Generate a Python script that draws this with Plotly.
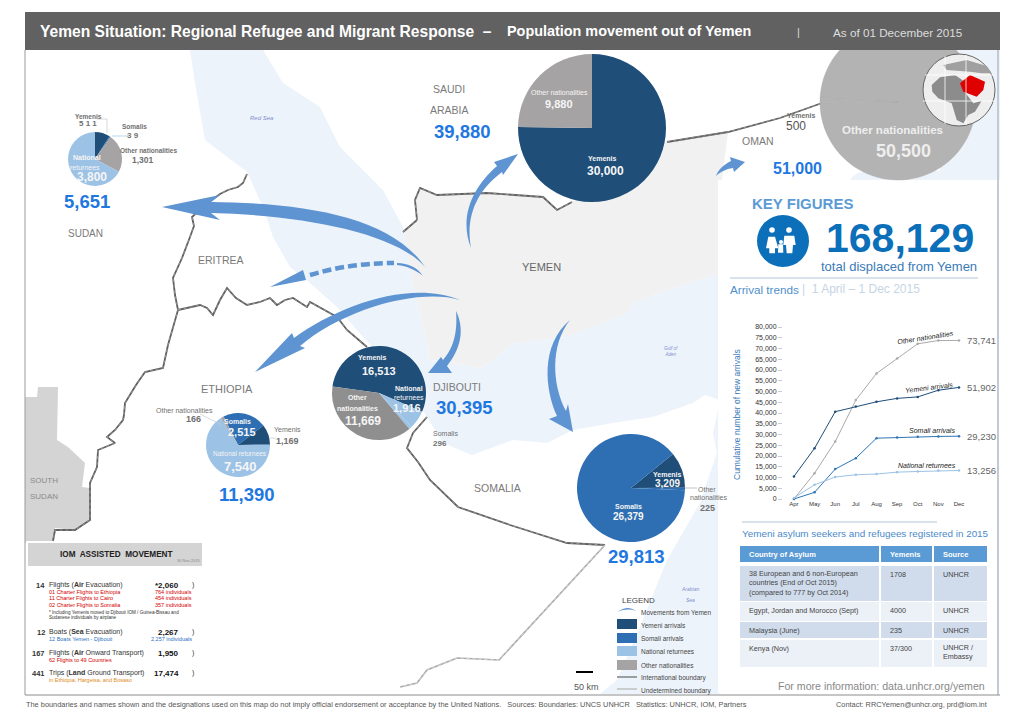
import plotly.graph_objects as go

# ---------- data ----------
months = ["Apr", "May", "Jun", "Jul", "Aug", "Sep", "Oct", "Nov", "Dec"]
other_nationalities = [0, 12000, 26700, 46000, 58400, 65300, 72200, 73700, 73741]
yemeni_arrivals = [10500, 23600, 40600, 43000, 45200, 46800, 47500, 50600, 51902]
somali_arrivals = [0, 3100, 13900, 19000, 28300, 28600, 29000, 29100, 29230]
national_returnees = [500, 6600, 10200, 11300, 11600, 12500, 12800, 13200, 13256]

saudi_labels = ["Yemenis", "Other nationalities"]
saudi_values = [30000, 9880]
sudan_labels = ["Yemenis", "Somalis", "Other nationalities", "National returnees"]
sudan_values = [511, 39, 1301, 3800]
djibouti_labels = ["Yemenis", "National returnees", "Somalis", "Other nationalities"]
djibouti_values = [16513, 1916, 296, 11669]
ethiopia_labels = ["Somalis", "Yemenis", "National returnees", "Other nationalities"]
ethiopia_values = [2515, 1169, 7540, 166]
somalia_labels = ["Yemenis", "Other nationalities", "Somalis"]
somalia_values = [3209, 225, 26379]
oman_labels = ["Other nationalities", "Yemenis"]
oman_values = [50500, 500]

table_header = ["Country of Asylum", "Yemenis", "Source"]
table_country = ["38 European and 6 non-European<br>countries (End of Oct 2015)<br>(compared to 777 by Oct 2014)",
                 "Egypt, Jordan and Morocco (Sept)", "Malaysia (June)", "Kenya (Nov)"]
table_yemenis = ["1708", "4000", "235", "37/300"]
table_source = ["UNHCR", "UNHCR", "UNHCR", "UNHCR /<br>Embassy"]

# ---------- style ----------
C_YEM, C_SOM, C_NAT, C_OTH = "#1f4e79", "#2e6fb3", "#9cc2e5", "#a5a3a3"
BLUE = "#1f78e0"; ARROW = "#5e94d1"; SEA = "#edf3fb"; LAND = "#f1f1f1"
FONT = "Liberation Sans"

# ---------- map geometry (image pixels) ----------
sea_outline = [(190,50),(195,83),(205,140),(247,172),(263,207),(273,237),(290,267),(310,283),(337,307),(363,337),
 (385,360),(405,385),(427,417),(443,443),(472,455),(513,440),(547,443),(573,430),(613,423),(653,417),(693,403),
 (705,395),(720,400),(720,273),(667,290),(633,303),(627,313),(567,337),(513,343),(493,360),(480,368),(450,362),
 (430,360),(427,343),(413,283),(403,227),(383,190),(340,147),(320,107),(283,83),(263,50)]
somali_east_sea = [(720,400),(713,433),(717,453),(700,503),(667,560),(640,627),(617,680),(600,694),(720,694)]
yemen_outline = [(403,232),(417,220),(415,200),(420,188),(437,195),(487,193),(543,197),(557,210),(572,202),(592,190),
 (667,142),(728,132),(722,180),(720,273),(667,290),(633,303),(627,313),(567,337),(513,343),(493,360),(480,368),
 (450,362),(430,360),(427,343),(413,283)]
south_sudan_outline = [(25,397),(37,397),(38,387),(58,387),(57,440),(68,447),(85,463),(82,487),(90,488),(90,520),
 (75,530),(55,528),(53,543),(25,543)]

borders = [
 [(247,174),(243,183),(238,187),(228,190),(220,194),(205,205),(192,217),(194,226),(190,237),(182,258),(173,278),(175,295),
  (178,310),(173,327),(168,345),(163,368),(145,372),(136,385),(125,403),(124,415),(123,420),(115,430),(107,437),(115,443),
  (98,450),(97,467),(90,483),(90,520),(75,530),(55,530),(53,541)],
 [(178,310),(190,307),(200,305),(207,308),(213,315),(220,300),(227,288),(236,298),(247,305),(260,302),(270,298),(277,305),
  (285,300),(293,298),(307,307),(310,302),(325,310),(337,317),(347,330),(367,347)],
 [(427,417),(413,433),(407,448),(418,462),(430,480),(445,495),(458,507),(510,525),(567,543),(605,545)],
 [(417,220),(415,200),(420,188),(437,195),(487,193),(543,197),(557,210),(572,202)],
 [(403,232),(417,220)],
 [(667,142),(728,132),(780,118),(822,103)],
]
undetermined = [(605,545),(499,660),(457,658),(427,670),(417,683),(400,687)]

def poly(points):
    return "M " + " L ".join(f"{x},{y}" for x, y in points) + " Z"

def filled(path, color, layer="above"):
    return dict(type="path", path=path, xref="x", yref="y", fillcolor=color, line=dict(width=0), layer=layer)

def rect(x0, y0, x1, y1, color, layer="below", line=None):
    return dict(type="rect", xref="x", yref="y", x0=x0, y0=y0, x1=x1, y1=y1, fillcolor=color,
                line=line or dict(width=0), layer=layer)

def circ(cx, cy, r, color, layer="above", line=None):
    return dict(type="circle", xref="x", yref="y", x0=cx-r, y0=cy-r, x1=cx+r, y1=cy+r, fillcolor=color,
                line=line or dict(width=0), layer=layer)

def seg(points, color, width=0.7, layer="above", dash="solid"):
    p = "M " + " L ".join(f"{x},{y}" for x, y in points)
    return dict(type="path", path=p, xref="x", yref="y", line=dict(color=color, width=width, dash=dash), layer=layer)

shapes = [
    rect(25, 50, 1000, 695, "#ffffff"),
    filled(poly(sea_outline), SEA, "below"),
    filled(poly(somali_east_sea), SEA, "below"),
    filled("M 940,50 L 1000,50 L 1000,180 L 850,180 C 853,175 858,172 866,171 L 940,171 Z", SEA, "below"),
    filled(poly(yemen_outline), LAND, "below"),
    filled(poly(south_sudan_outline), "#d4d4d4", "below"),
    # right panel
    rect(718, 180, 998, 693, "#ffffff"),
    seg([(998,50),(998,695)], "#c3cad4", 2, "below"),
    seg([(25,50),(25,695)], "#9a9a9a", 1, "below"),
    seg([(25,695),(1000,695)], "#8c8c8c", 1, "below"),
    # arrows
    filled("M 162,207 L 220,195 L 211,202 C 300,203 390,215 425,267 C 395,232 300,215 211,213 L 220,220 Z", ARROW),
    filled("M 270,287 L 303,270 L 306,280 Z", ARROW),
    dict(type="path", path="M 310,275 Q 350,263 394,263", xref="x", yref="y",
         line=dict(color=ARROW, width=4.5, dash="9px,4px"), layer="above"),
    filled("M 397,263 C 408,263 418,268 423,276 C 416,270 407,266 397,265 Z", ARROW),
    filled("M 255,372 L 292,333 L 294,338 C 340,305 410,280 460,300 C 420,288 345,308 300,346 L 305,348 Z", ARROW),
    filled("M 428,373 L 441,357 L 443,360 C 452,350 458,335 456,311 C 463,325 464,345 447,366 L 452,373 Z", ARROW),
    filled("M 518,154 L 494,162 L 497,166 C 475,185 458,215 471,248 C 465,215 478,190 502,172 L 503,175 Z", ARROW),
    filled("M 573,432 L 549,419 L 557,416 C 545,390 540,345 570,320 C 550,345 552,385 566,411 L 568,404 Z", ARROW),
    filled("M 745,162 L 730,157 L 731,161 C 723,165 718,170 716,176 C 720,172 726,169 733,168 L 734,172 Z", ARROW),
    # leader lines
    seg([(97,119),(107,119),(107,133)], "#c8c8c8"),
    seg([(112,136),(128,136)], "#9cc2e5"),
    seg([(200,414),(222,425)], "#c8c8c8"),
    seg([(270,438),(276,438)], "#c8c8c8"),
    seg([(685,488),(697,488)], "#aaaaaa"),
    # header
    rect(25, 12, 1000, 50, "#616161", "above"),
    # IOM panel
    rect(26, 541, 204, 694, "#ffffff", "above"),
    rect(28, 543, 202, 566, "#d4d4d4", "above"),
    # key figures rules
    seg([(730,278),(978,278)], "#b4c6d8", 1.2, "below"),
    seg([(742,522),(937,522)], "#b4c6d8", 1, "below"),
    # legend
    filled("M 617,612 C 625,607 630,607 636,611 C 630,609 625,609 617,612 Z", ARROW),
    rect(617, 619, 637, 629, C_YEM, "above"),
    rect(617, 633, 637, 643, C_SOM, "above"),
    rect(617, 646, 637, 656, C_NAT, "above"),
    rect(617, 660, 637, 670, C_OTH, "above"),
    seg([(617,677),(637,677)], "#777777", 1.4),
    seg([(617,689),(637,689)], "#bbbbbb", 1.4),
    rect(576, 671, 593, 673, "#000000", "above"),
]

# globe
def z6(pts):
    return poly([(round(800+a/3, 1), round(40+b/3, 1)) for a, b in pts])

shapes += [
    circ(959, 90, 36, "#eeeeee", line=dict(color="#666666", width=1)),
    filled(z6([(395,135),(420,112),(465,105),(490,122),(490,150),(520,190),(545,182),(525,215),(505,225),(490,250),(470,240),(455,190),(415,175),(397,155)]), "#8c8c8c"),
    filled(z6([(430,75),(500,60),(560,78),(575,100),(545,100),(510,95),(470,92),(440,90)]), "#a0a0a0"),
    filled(z6([(480,130),(510,105),(555,125),(550,150),(530,170),(490,155)]), "#e00000"),
    seg([(923,101),(995,101)], "#ffffff", 0.8),
    seg([(925,75),(993,75)], "#ffffff", 0.8),
    seg([(945,56),(945,124)], "#ffffff", 0.8),
    seg([(966,55),(966,125)], "#ffffff", 0.8),
]

# family icon
def z11(pts):
    return poly([(round(715+a/3, 1), round(175+b/3, 1)) for a, b in pts])

shapes += [
    circ(783, 241, 26, "#0b6fb9"),
    circ(772, 230, 2.8, "#ffffff"), circ(789, 230, 2.8, "#ffffff"), circ(781, 242, 2, "#ffffff"),
    filled(z11([(160,185),(180,185),(190,220),(180,220),(180,235),(163,235),(163,220),(153,220)]), "#ffffff"),
    filled(z11([(208,182),(238,182),(242,210),(234,210),(232,235),(215,235),(213,210),(205,210)]), "#ffffff"),
    filled(z11([(190,208),(204,208),(205,233),(189,233)]), "#ffffff"),
]

# ---------- annotations ----------
anns = []
def txt(x, y, s, size=7, color="#555555", bold=False, anchor="center", angle=0, italic=False, ref=None, xshift=0):
    if bold:
        s = f"<b>{s}</b>"
    if italic:
        s = f"<i>{s}</i>"
    xr, yr = ref or ("x", "y")
    anns.append(dict(x=x, y=y, xref=xr, yref=yr, text=s, showarrow=False, xanchor=anchor, yanchor="middle",
                     align="center" if anchor == "center" else anchor, textangle=angle, xshift=xshift, borderpad=0,
                     font=dict(family=FONT, size=size, color=color)))

W = "#f5f5f5"
G = "#707070"
txt(39, 31, "Yemen Situation: Regional Refugee and Migrant Response  –", 15.6, "#ffffff", True, "left")
txt(506, 31, "Population movement out of Yemen", 14.4, "#ffffff", True, "left")
txt(798, 32, "|", 11, "#d8d8d8", False)
txt(832, 32, "As of 01 December 2015", 11.7, "#dddddd", False, "left")

# Saudi
txt(449, 89, "SAUDI", 10.5, "#7a7a7a"); txt(449, 110, "ARABIA", 10.5, "#7a7a7a")
txt(462, 131, "39,880", 18.5, BLUE, True)
txt(559, 92, "Other nationalities", 7, W); txt(559, 104, "9,880", 11, W, True)
txt(602, 158, "Yemenis", 7, W, True); txt(605, 171, "30,000", 12, W, True)
# Oman
txt(801, 115, "Yemenis", 7, G, True); txt(796, 126, "500", 12, "#555555")
txt(758, 141, "OMAN", 10.5, "#7a7a7a"); txt(797, 168, "51,000", 16, BLUE, True)
txt(892, 130, "Other nationalities", 11.5, "#eeeeee", True); txt(903, 151, "50,500", 18, "#eeeeee", True)
# Sudan
txt(88, 116, "Yemenis", 6.5, G, True); txt(88, 123, "5 1 1", 8, G, True)
txt(134, 126, "Somalis", 6.5, G, True); txt(133, 135, "3 9", 8, G, True)
txt(148, 150, "Other nationalities", 6.5, G, True); txt(143, 160, "1,301", 8.5, G, True)
txt(87, 157, "National", 7, W, True); txt(85, 167, "returnees", 7, W); txt(92, 177, "3,800", 12, W, True)
txt(87, 201, "5,651", 18.5, BLUE, True); txt(85, 233, "SUDAN", 10, "#7a7a7a")
# Djibouti
txt(372, 357, "Yemenis", 7, W, True); txt(379, 371, "16,513", 11, W, True)
txt(409, 388, "National", 7, W, True); txt(409, 397, "returnees", 7, W); txt(407, 408, "1,916", 11, W, True)
txt(357, 397, "Other", 7, W, True); txt(357, 408, "nationalities", 7, W, True); txt(363, 421, "11,669", 12, W, True)
txt(457, 387, "DJIBOUTI", 10.5, "#7a7a7a"); txt(464, 407, "30,395", 18.5, BLUE, True)
txt(445, 433, "Somalis", 7, G); txt(440, 443, "296", 8, G, True)
# Ethiopia
txt(227, 389, "ETHIOPIA", 11, "#7a7a7a")
txt(184, 410, "Other nationalities", 7, G); txt(193, 419, "166", 9, G, True)
txt(237, 421, "Somalis", 7, W, True); txt(242, 432, "2,515", 11, W, True)
txt(287, 429, "Yemenis", 7, G); txt(287, 441, "1,169", 9, G, True)
txt(240, 453, "National returnees", 6.5, W); txt(240, 466, "7,540", 13, W, True)
txt(247, 494, "11,390", 18.5, BLUE, True)
# Somalia
txt(667, 474, "Yemenis", 7, W, True); txt(667, 483, "3,209", 10, W, True)
txt(628, 506, "Somalis", 7, W, True); txt(628, 516, "26,379", 10, W, True)
txt(707, 489, "Other", 7, G); txt(708, 497, "nationalities", 7, G); txt(707, 508, "225", 9, G, True)
txt(636, 556, "29,813", 18.5, BLUE, True); txt(497, 488, "SOMALIA", 10.5, "#7a7a7a")
# map names
txt(541, 267, "YEMEN", 11, "#666666"); txt(221, 260, "ERITREA", 10.5, "#7a7a7a")
txt(44, 480, "SOUTH", 8, "#8a8a8a"); txt(44, 496, "SUDAN", 8, "#8a8a8a")
txt(262, 118, "Red Sea", 6, "#7f8fcf", italic=True)
txt(671, 351, "Gulf of<br>Aden", 4.5, "#7f8fcf", italic=True)
txt(690, 589, "Arabian", 5, "#7f8fcf", italic=True); txt(690, 600, "Sea", 5, "#7f8fcf", italic=True)
# key figures
txt(751, 203, "KEY FIGURES", 15, "#5b9bd5", True, "left")
txt(975, 238, "168,129", 41, "#0b6fb9", True, "right")
txt(978, 266, "total displaced from Yemen", 13, "#3a7ab8", False, "right")
txt(729, 289, "Arrival trends", 11.7, "#4f8fcb", False, "left")
txt(801, 289, "|  1 April – 1 Dec 2015", 12, "#c5d5e5", False, "left")
txt(737, 415, "Cumulative number of new arrivals", 8.5, "#3a7ab8", angle=-90)
txt(925, 337, "Other nationalities", 7, "#222222", italic=True, angle=-9)
txt(929, 387, "Yemeni arrivals", 7, "#222222", italic=True, angle=-7)
txt(932, 430, "Somali arrivals", 7, "#222222", italic=True)
txt(927, 465, "National returnees", 7, "#222222", italic=True)
for series in (other_nationalities, yemeni_arrivals, somali_arrivals, national_returnees):
    txt("Dec", series[-1], f"{series[-1]:,}", 9.5, "#666666", anchor="left", ref=("x2", "y2"), xshift=7)
txt(741, 533, "Yemeni asylum seekers and refugees registered in 2015", 9.9, "#4a8ac9", False, "left")
txt(986, 686, "For more information: data.unhcr.org/yemen", 10.6, "#888888", False, "right")
# footer
txt(25, 704, "The boundaries and names shown and the designations used on this map do not imply official endorsement or acceptance by the United Nations.   Sources: Boundaries: UNCS UNHCR   Statistics: UNHCR, IOM, Partners", 7.4, "#555555", False, "left")
txt(988, 704, "Contact: RRCYemen@unhcr.org, prd@iom.int", 7.4, "#555555", False, "right")
# legend text
txt(621, 600, "LEGEND", 8, "#444444", False, "left")
for y, s in [(612, "Movements from Yemen"), (625, "Yemeni arrivals"), (638, "Somali arrivals"), (651, "National returnees"),
             (665, "Other nationalities"), (678, "International boundary"), (691, "Undetermined boundary")]:
    txt(640, y, s, 6.5, "#444444", False, "left")
txt(586, 687, "50 km", 9, "#555555")
# IOM panel
txt(116, 554, "IOM  ASSISTED  MOVEMENT", 8.2, "#222222", True)
txt(188, 560, "30 Nov 2015", 4, "#888888")
RED = "#d40000"
def row(y, count, label, total):
    txt(46, y, count, 7.5, "#333333", True, "right")
    txt(48, y, label, 7, "#333333", False, "left")
    txt(180, y, total, 8, "#111111", True, "right")
    txt(193, y, ")", 7, "#333333")
row(585, "14", "Flights (<b>Air</b> Evacuation)", "*2,060")
for y, a, b in [(592, "01 Charter Flights to Ethiopia", "764 individuals"), (598, "11 Charter Flights to Cairo", "454 individuals"),
                (605, "02 Charter Flights to Somalia", "357 individuals")]:
    txt(48, y, a, 5.5, RED, False, "left"); txt(193, y, b, 5.5, RED, False, "right")
txt(48, 612, "* Including Yemenis moved to Djibouti IOM / Guinea-Bissau and", 4.6, "#333333", False, "left")
txt(48, 617, "Sudanese individuals by airplane", 4.6, "#333333", False, "left")
row(632, "12", "Boats (<b>Sea</b> Evacuation)", "2,267")
txt(48, 639, "12 Boats Yemen - Djibouti", 5.5, "#1f6fc0", False, "left"); txt(193, 639, "2,257 individuals", 5.5, "#1f6fc0", False, "right")
row(653, "167", "Flights (<b>Air</b> Onward Transport)", "1,950")
txt(48, 660, "62 Flights to 49 Countries", 5.5, RED, False, "left")
row(673, "441", "Trips (<b>Land</b> Ground Transport)", "17,474")
txt(48, 680, "in Ethiopia, Hargeisa, and Bosaso", 5.5, "#e08a20", False, "left")

# asylum table, drawn cell by cell from the lists at the top
col_edges = [(740, 879), (881, 932), (934, 987)]
for (x0, x1), head in zip(col_edges, table_header):
    shapes.append(rect(x0, 546, x1, 562, "#5b9bd5", "below"))
    txt(x0 + 8, 554, head, 7.5, "#ffffff", True, "left")
row_edges = [(566, 601), (602, 621), (622, 638), (640, 667)]
row_fill = ["#d0dcec", "#ecf0f7", "#d0dcec", "#ecf0f7"]
for r, (y0, y1) in enumerate(row_edges):
    for c, (x0, x1) in enumerate(col_edges):
        shapes.append(rect(x0, y0, x1, y1, row_fill[r], "below"))
        value = (table_country, table_yemenis, table_source)[c][r]
        lines = value.count("<br>") + 1
        txt(x0 + 8, y0 + 4 + lines * 4.2, value, 7.2, "#444444", False, "left")

# ---------- figure ----------
fig = go.Figure()
PW, PH = 1024, 724

for line_pts, color, width, dash in [(b, "#5f5f5f", 1.8, "solid") for b in borders] + \
        [(b, "#c8c8c8", 0.5, "dot") for b in borders] + [(undetermined, "#aaaaaa", 1.6, "solid"), (undetermined, "#ffffff", 0.5, "dot")]:
    fig.add_trace(go.Scatter(x=[p[0] for p in line_pts], y=[p[1] for p in line_pts], mode="lines",
                             line=dict(color=color, width=width, dash=dash), hoverinfo="skip", showlegend=False))

def pie(labels, values, colors, cx, cy, r, rotation, line=None):
    fig.add_trace(go.Pie(labels=labels, values=values, sort=False, direction="clockwise", rotation=rotation,
                         textinfo="none", hoverinfo="label+value", showlegend=False,
                         marker=dict(colors=colors, line=line or dict(width=0)),
                         domain=dict(x=[(cx-r)/PW, (cx+r)/PW], y=[1-(cy+r)/PH, 1-(cy-r)/PH])))

pie(oman_labels, oman_values, ["#b3b3b3", "#b3b3b3"], 898, 102, 78, 273, dict(color="#a6a6a6", width=0.4))
pie(saudi_labels, saudi_values, [C_YEM, C_OTH], 592, 128, 74, 0)
pie(sudan_labels, sudan_values, [C_YEM, C_SOM, C_OTH, C_NAT], 95, 159, 27, 0)
pie(djibouti_labels, djibouti_values, [C_YEM, C_NAT, C_NAT, "#8f8f8f"], 379, 393, 47, 278)
pie(ethiopia_labels, ethiopia_values, [C_SOM, C_YEM, C_NAT, C_OTH], 238, 445, 32, 333)
pie(somalia_labels, somalia_values, [C_YEM, C_SOM, C_SOM], 631, 488, 54, 51)

for name, series, color in [("Other nationalities", other_nationalities, "#aaaaaa"),
                            ("Yemeni arrivals", yemeni_arrivals, "#1f4e79"),
                            ("Somali arrivals", somali_arrivals, "#2e75b6"),
                            ("National returnees", national_returnees, "#9cc2e5")]:
    fig.add_trace(go.Scatter(x=months, y=series, mode="lines+markers", xaxis="x2", yaxis="y2", name=name,
                             line=dict(color=color, width=1), marker=dict(size=2.5, color=color),
                             cliponaxis=False, showlegend=False))

AX = dict(visible=False, fixedrange=True)
fig.update_layout(
    width=PW, height=PH, autosize=False, margin=dict(l=0, r=0, t=0, b=0, pad=0, autoexpand=False),
    paper_bgcolor="#ffffff", plot_bgcolor="rgba(0,0,0,0)", showlegend=False, shapes=shapes, annotations=anns,
    xaxis=dict(range=[0, PW], domain=[0, 1], **AX),
    yaxis=dict(range=[PH, 0], domain=[0, 1], **AX),
    xaxis2=dict(type="category", categoryorder="array", categoryarray=months, range=[-0.53, 8],
                domain=[783/PW, 959/PW], anchor="y2", showgrid=False, zeroline=False, showline=False, ticks="",
                tickfont=dict(family=FONT, size=6, color="#333333"), fixedrange=True),
    yaxis2=dict(range=[0, 80000], domain=[1-499/PH, 1-327/PH], anchor="x2", dtick=5000, tickformat=",",
                showgrid=False, zeroline=False, showline=False, ticks="outside", ticklen=4, tickcolor="#cccccc",
                tickwidth=1, tickfont=dict(family=FONT, size=7, color="#333333"), fixedrange=True),
)

fig.write_html("out.html", post_script="document.body.style.margin='0';document.body.style.overflow='hidden';",
               config=dict(displayModeBar=False))
